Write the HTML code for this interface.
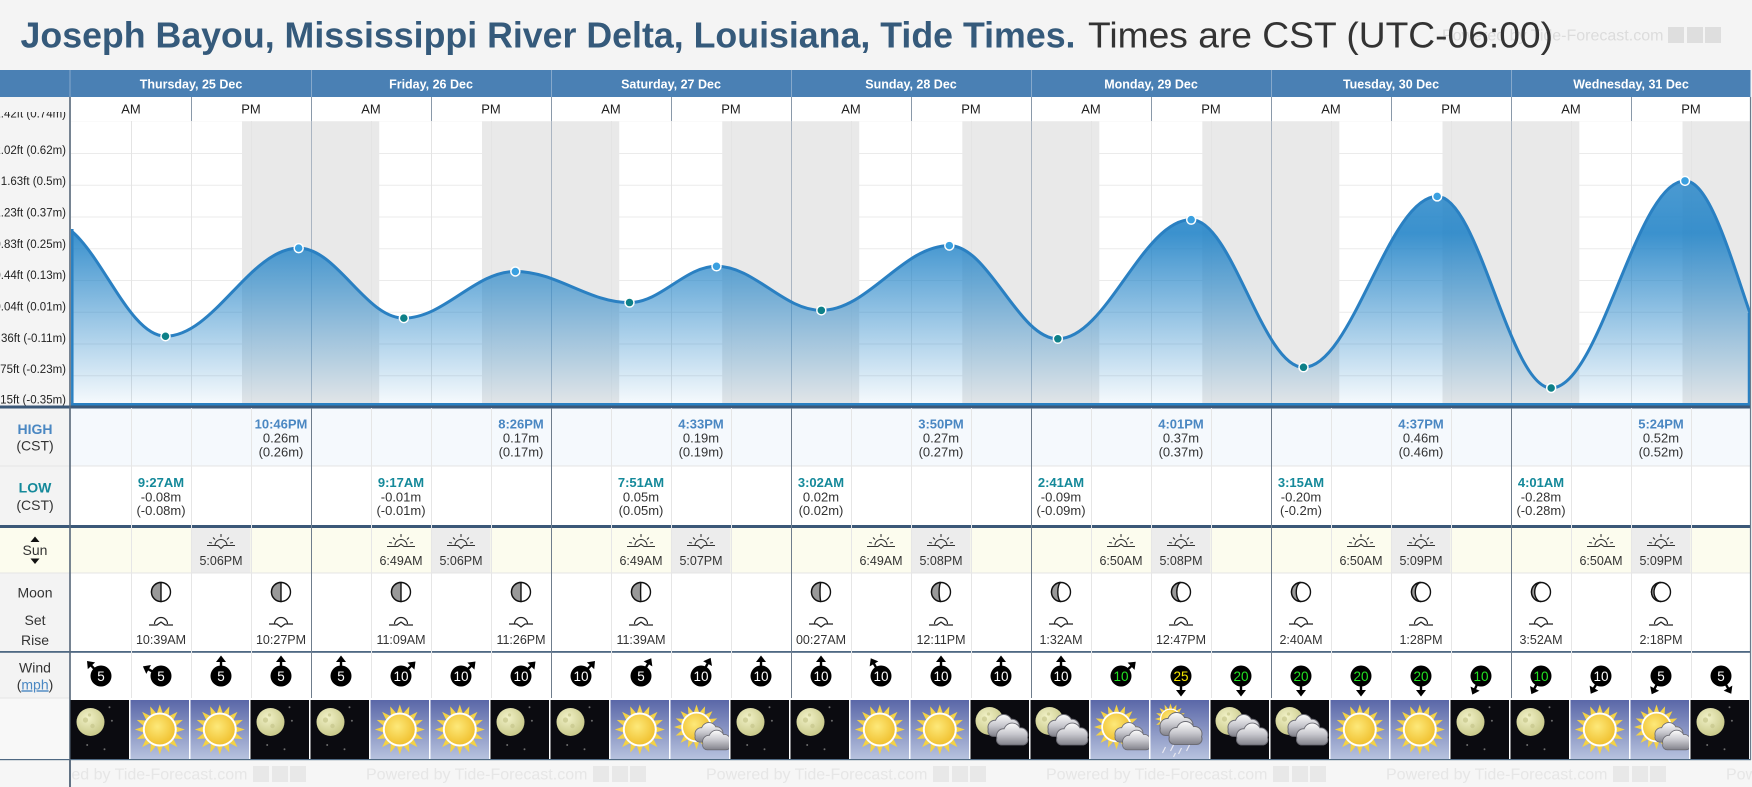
<!DOCTYPE html>
<html><head><meta charset="utf-8"><style>
html,body{margin:0;padding:0;background:#f4f4f4;overflow:hidden;width:1752px;height:787px}
svg{display:block}
text{font-family:"Liberation Sans",Arial,sans-serif}
.m{text-anchor:middle}
.v{font-size:13px;fill:#333}
.hb{font-size:13px;font-weight:bold;fill:#4a87c2}
.lb{font-size:13px;font-weight:bold;fill:#14899a}
.s{font-size:12.5px;fill:#333}
.yl{font-size:11.5px;fill:#222;text-anchor:end}
.lab{font-size:14px;fill:#333;text-anchor:middle}
.wn{font-size:13.5px;text-anchor:middle}
.wm{font-size:16px;fill:#e6e6e6}
</style></head><body>
<svg width="1752" height="787" viewBox="0 0 1752 787" xmlns="http://www.w3.org/2000/svg">
<defs>
<clipPath id="chart"><rect x="71" y="121.5" width="1679" height="284"/></clipPath>
<clipPath id="foot"><rect x="71" y="760" width="1681" height="27"/></clipPath>
<clipPath id="tc"><rect width="58.5" height="59"/></clipPath>
<linearGradient id="fillg" gradientUnits="userSpaceOnUse" x1="0" y1="190" x2="0" y2="406">
<stop offset="0" stop-color="#2585c8" stop-opacity=".84"/>
<stop offset=".2" stop-color="#2585c8" stop-opacity=".9"/>
<stop offset="1" stop-color="#2585c8" stop-opacity=".03"/>
</linearGradient>
<linearGradient id="sky" x1="0" y1="0" x2="0" y2="1"><stop offset="0" stop-color="#5a67a8"/><stop offset="1" stop-color="#b7c2de"/></linearGradient>
<radialGradient id="sung" cx=".42" cy=".4" r=".6"><stop offset="0" stop-color="#fde97a"/><stop offset="1" stop-color="#f1c232"/></radialGradient>
<radialGradient id="moong" cx=".4" cy=".35" r=".65"><stop offset="0" stop-color="#f2f2c8"/><stop offset="1" stop-color="#c9c98a"/></radialGradient>
<linearGradient id="cg" gradientUnits="userSpaceOnUse" x1="0" y1="0" x2="0" y2="22"><stop offset="0" stop-color="#fbfbfb"/><stop offset=".5" stop-color="#c8c8ce"/><stop offset="1" stop-color="#85858e"/></linearGradient>
<g id="sunb"><polygon fill="#f4d246" points="25,0 15.69,3.12 23.1,9.57 13.3,8.89 17.68,17.68 8.89,13.3 9.57,23.1 3.12,15.69 0,25 -3.12,15.69 -9.57,23.1 -8.89,13.3 -17.68,17.68 -13.3,8.89 -23.1,9.57 -15.69,3.12 -25,0 -15.69,-3.12 -23.1,-9.57 -13.3,-8.89 -17.68,-17.68 -8.89,-13.3 -9.57,-23.1 -3.12,-15.69 0,-25 3.12,-15.69 9.57,-23.1 8.89,-13.3 17.68,-17.68 13.3,-8.89 23.1,-9.57 15.69,-3.12"/><circle r="17" fill="#fff"/><circle r="15" fill="url(#sung)"/></g>
<g id="moonb"><circle r="14" fill="url(#moong)"/><circle cx="-5" cy="-2" r="2.6" fill="#c6c68c" opacity=".7"/><circle cx="2" cy="4" r="2.2" fill="#c6c68c" opacity=".7"/><circle cx="-1" cy="-7" r="1.6" fill="#c6c68c" opacity=".7"/></g>
<g id="cl"><g fill="#6c6c74" stroke="#6c6c74" stroke-width="2"><circle cx="8" cy="13" r="7"/><circle cx="17" cy="8.5" r="8.5"/><circle cx="26" cy="12" r="7"/><rect x="1" y="12" width="32" height="10" rx="5"/></g><g fill="url(#cg)"><circle cx="8" cy="13" r="7"/><circle cx="17" cy="8.5" r="8.5"/><circle cx="26" cy="12" r="7"/><rect x="1" y="12" width="32" height="10" rx="5"/></g></g>
<g id="cloud"><use href="#cl"/><use href="#cl" x="9" y="9"/></g>
<g id="tN" clip-path="url(#tc)"><rect width="58.5" height="59" fill="#0b0b10"/><use href="#moonb" x="20" y="22"/><g fill="#6a6a6a"><circle cx="39" cy="7.3" r="1"/><circle cx="41.4" cy="20.7" r="1"/><circle cx="16.7" cy="45" r="1"/><circle cx="34" cy="49.3" r="1"/></g></g>
<g id="tS" clip-path="url(#tc)"><rect width="58.5" height="59" fill="url(#sky)"/><use href="#sunb" x="29.3" y="29.5"/></g>
<g id="tSC" clip-path="url(#tc)"><rect width="58.5" height="59" fill="url(#sky)"/><use href="#sunb" transform="translate(26,27) scale(.9)"/><use href="#cloud" transform="translate(24,23) scale(.85)"/></g>
<g id="tR" clip-path="url(#tc)"><rect width="58.5" height="59" fill="url(#sky)"/><use href="#sunb" transform="translate(20,19) scale(.62)"/><use href="#cloud" transform="translate(9,13)"/><path d="M15,47l-3,6M23,45l-3,6M31,48l-3,6M39,45l-3,6M25,53l-2,4" stroke="#e8e8f0" stroke-width="1.2"/></g>
<g id="tNC" clip-path="url(#tc)"><rect width="58.5" height="59" fill="#0b0b10"/><use href="#moonb" x="19" y="21"/><use href="#cloud" transform="translate(17,15) scale(.95)"/></g>
<g id="sr" fill="none" stroke="#333" stroke-width="1.1"><path d="M-6,0A6,6 0 0 1 6,0"/><path d="M0,-8.5V-11.5M-6,-6L-8,-8M6,-6L8,-8M-9,-2.5L-12,-3M9,-2.5L12,-3"/><path d="M-14,1H-3L0,-1.5L3,1H14"/></g>
<g id="ss" fill="none" stroke="#333" stroke-width="1.1"><path d="M-6,0A6,6 0 0 1 6,0"/><path d="M0,-8.5V-11.5M-6,-6L-8,-8M6,-6L8,-8M-9,-2.5L-12,-3M9,-2.5L12,-3"/><path d="M-14,0H-3L0,3L3,0H14"/></g>
<g id="mr" fill="none" stroke="#222" stroke-width="1.2"><path d="M-6.5,0A6.5,6.5 0 0 1 6.5,0"/><path d="M-12,1H-4L0,-2L4,1H12"/></g>
<g id="ms" fill="none" stroke="#222" stroke-width="1.2"><path d="M-6.5,0A6.5,6.5 0 0 1 6.5,0"/><path d="M-12,0H-4L0,3L4,0H12"/></g>
<g id="arr"><line x1="0" y1="-9" x2="0" y2="-15" stroke="#000" stroke-width="2.4"/><polygon points="-5,-14 0,-20.5 5,-14" fill="#000"/></g>
</defs>

<rect width="1752" height="787" fill="#f4f4f4"/>

<!-- header watermark -->
<text x="1442" y="40.5" font-size="16" fill="#dcdcdc">Powered by Tide-Forecast.com</text>
<g fill="#dedede"><rect x="1668" y="27" width="16" height="16"/><rect x="1687" y="27" width="16" height="16"/><rect x="1705" y="27" width="16" height="16"/></g>

<!-- title -->
<text x="20.5" y="47.3" font-size="36" font-weight="bold" fill="#355a7b" textLength="1055" lengthAdjust="spacingAndGlyphs">Joseph Bayou, Mississippi River Delta, Louisiana, Tide Times.</text>
<text x="1088" y="47.3" font-size="36.5" fill="#333" textLength="465" lengthAdjust="spacingAndGlyphs">Times are CST (UTC-06:00)</text>

<!-- blue day bar -->
<rect x="0" y="70" width="1750.5" height="27" fill="#4a80b4"/>
<path d="M70,70V97M311.5,70V97M551.5,70V97M791.5,70V97M1031.5,70V97M1271.5,70V97M1511.5,70V97" stroke="#86a9cc" stroke-width="1"/>
<g fill="#fff" font-size="12.5" font-weight="bold">
<text x="191" y="88.5" class="m">Thursday, 25 Dec</text>
<text x="431" y="88.5" class="m">Friday, 26 Dec</text>
<text x="671" y="88.5" class="m">Saturday, 27 Dec</text>
<text x="911" y="88.5" class="m">Sunday, 28 Dec</text>
<text x="1151" y="88.5" class="m">Monday, 29 Dec</text>
<text x="1391" y="88.5" class="m">Tuesday, 30 Dec</text>
<text x="1631" y="88.5" class="m">Wednesday, 31 Dec</text>
</g>

<!-- y labels (top one partially hidden) -->
<text x="66" y="117.5" class="yl">2.42ft (0.74m)</text>
<rect x="0" y="97" width="70" height="15" fill="#f4f4f4"/>

<!-- AM/PM row -->
<rect x="71" y="97" width="1679" height="24" fill="#fff"/>
<path d="M191.5,97V121M311.5,97V121M431.5,97V121M551.5,97V121M671.5,97V121M791.5,97V121M911.5,97V121M1031.5,97V121M1151.5,97V121M1271.5,97V121M1391.5,97V121M1511.5,97V121M1631.5,97V121" stroke="#8a99a9" stroke-width="1"/>
<g font-size="13" fill="#222">
<text x="131" y="113.5" class="m">AM</text><text x="251" y="113.5" class="m">PM</text>
<text x="371" y="113.5" class="m">AM</text><text x="491" y="113.5" class="m">PM</text>
<text x="611" y="113.5" class="m">AM</text><text x="731" y="113.5" class="m">PM</text>
<text x="851" y="113.5" class="m">AM</text><text x="971" y="113.5" class="m">PM</text>
<text x="1091" y="113.5" class="m">AM</text><text x="1211" y="113.5" class="m">PM</text>
<text x="1331" y="113.5" class="m">AM</text><text x="1451" y="113.5" class="m">PM</text>
<text x="1571" y="113.5" class="m">AM</text><text x="1691" y="113.5" class="m">PM</text>
</g>

<!-- chart -->
<rect x="71" y="121.5" width="1679" height="284" fill="#fff"/>
<path d="M71,153.5H1750M71,185.3H1750M71,217H1750M71,248.8H1750M71,280.5H1750M71,312.3H1750M71,344H1750M71,375.8H1750" stroke="#ebebeb" stroke-width="1"/>
<g fill="#e9e9e9">
<rect x="242" y="121.5" width="137.2" height="284"/>
<rect x="482" y="121.5" width="137.2" height="284"/>
<rect x="722.2" y="121.5" width="137" height="284"/>
<rect x="962.3" y="121.5" width="137" height="284"/>
<rect x="1202.3" y="121.5" width="137" height="284"/>
<rect x="1442.5" y="121.5" width="136.8" height="284"/>
<rect x="1682.5" y="121.5" width="67.5" height="284"/>
</g>
<path d="M131.5,121V405M191.5,121V405M251.5,121V405M371.5,121V405M431.5,121V405M491.5,121V405M611.5,121V405M671.5,121V405M731.5,121V405M851.5,121V405M911.5,121V405M971.5,121V405M1091.5,121V405M1151.5,121V405M1211.5,121V405M1331.5,121V405M1391.5,121V405M1451.5,121V405M1571.5,121V405M1631.5,121V405M1691.5,121V405" stroke="#e4e4e4" stroke-width="1"/>
<path d="M311.5,121V405M551.5,121V405M791.5,121V405M1031.5,121V405M1271.5,121V405M1511.5,121V405" stroke="#aab5c2" stroke-width="1"/>

<g clip-path="url(#chart)">
<g transform="translate(2,0)">
<path fill="url(#fillg)" d="M49,222.26C90.68,222.26 121.82,336.22 163.5,336.22C211.97,336.22 248.2,248.16 296.67,248.16C334.95,248.16 363.55,318.09 401.83,318.09C442.42,318.09 472.74,271.47 513.33,271.47C554.89,271.47 585.94,302.55 627.5,302.55C659.17,302.55 682.83,266.29 714.5,266.29C752.66,266.29 781.17,310.32 819.33,310.32C865.92,310.32 900.74,245.57 947.33,245.57C986.82,245.57 1016.34,338.81 1055.83,338.81C1104.37,338.81 1140.63,219.67 1189.17,219.67C1230.06,219.67 1260.61,367.3 1301.5,367.3C1350.16,367.3 1386.51,196.36 1435.17,196.36C1476.67,196.36 1507.67,388.02 1549.17,388.02C1597.88,388.02 1634.29,180.82 1683,180.82C1724.86,180.82 1756.14,400.97 1798,400.97L1798,410L49,410Z"/>
<path fill="none" stroke="#2a80c2" stroke-width="3" d="M49,222.26C90.68,222.26 121.82,336.22 163.5,336.22C211.97,336.22 248.2,248.16 296.67,248.16C334.95,248.16 363.55,318.09 401.83,318.09C442.42,318.09 472.74,271.47 513.33,271.47C554.89,271.47 585.94,302.55 627.5,302.55C659.17,302.55 682.83,266.29 714.5,266.29C752.66,266.29 781.17,310.32 819.33,310.32C865.92,310.32 900.74,245.57 947.33,245.57C986.82,245.57 1016.34,338.81 1055.83,338.81C1104.37,338.81 1140.63,219.67 1189.17,219.67C1230.06,219.67 1260.61,367.3 1301.5,367.3C1350.16,367.3 1386.51,196.36 1435.17,196.36C1476.67,196.36 1507.67,388.02 1549.17,388.02C1597.88,388.02 1634.29,180.82 1683,180.82C1724.86,180.82 1756.14,400.97 1798,400.97"/>
</g>
<path d="M72.3,229V405M71,404.3H1750M1749,313V405" stroke="#2a80c2" stroke-width="2.5" fill="none"/>
</g>
<g transform="translate(2,0)" stroke="#fff" stroke-width="1.5">
<g fill="#3aa0e0">
<circle cx="296.67" cy="248.16" r="4.5"/><circle cx="513.33" cy="271.47" r="4.5"/><circle cx="714.5" cy="266.29" r="4.5"/><circle cx="947.33" cy="245.57" r="4.5"/><circle cx="1189.17" cy="219.67" r="4.5"/><circle cx="1435.17" cy="196.36" r="4.5"/><circle cx="1683" cy="180.82" r="4.5"/>
</g>
<g fill="#0e8088">
<circle cx="163.5" cy="336.22" r="4.5"/><circle cx="401.83" cy="318.09" r="4.5"/><circle cx="627.5" cy="302.55" r="4.5"/><circle cx="819.33" cy="310.32" r="4.5"/><circle cx="1055.83" cy="338.81" r="4.5"/><circle cx="1301.5" cy="367.3" r="4.5"/><circle cx="1549.17" cy="388.02" r="4.5"/>
</g>
</g>

<!-- y labels -->
<text x="66" y="154" class="yl">2.02ft (0.62m)</text>
<text x="66" y="185" class="yl">1.63ft (0.5m)</text>
<text x="66" y="216.5" class="yl">1.23ft (0.37m)</text>
<text x="66" y="248" class="yl">0.83ft (0.25m)</text>
<text x="66" y="279" class="yl">0.44ft (0.13m)</text>
<text x="66" y="310.5" class="yl">0.04ft (0.01m)</text>
<text x="66" y="342" class="yl">-0.36ft (-0.11m)</text>
<text x="66" y="373" class="yl">-0.75ft (-0.23m)</text>
<text x="66" y="403.5" class="yl">-1.15ft (-0.35m)</text>

<!-- table backgrounds -->
<rect x="0" y="408.5" width="70" height="351" fill="#f3f3f3"/>
<rect x="0" y="698.5" width="70" height="61" fill="#f8f8f8"/>
<rect x="71" y="408.5" width="1679" height="57.5" fill="#f5f9fd"/>
<rect x="71" y="466" width="1679" height="59" fill="#fff"/>
<rect x="0" y="528" width="1750" height="45" fill="#fcfcee"/>
<g fill="#ececec">
<rect x="191.5" y="528" width="59" height="45"/><rect x="431.5" y="528" width="59" height="45"/><rect x="671.5" y="528" width="59" height="45"/><rect x="911.5" y="528" width="59" height="45"/><rect x="1151.5" y="528" width="59" height="45"/><rect x="1391.5" y="528" width="59" height="45"/><rect x="1631.5" y="528" width="59" height="45"/>
</g>
<rect x="71" y="573.5" width="1679" height="78" fill="#fff"/>
<rect x="71" y="653" width="1679" height="106" fill="#fff"/>
<rect x="0" y="760" width="1752" height="27" fill="#f6f6f6"/>

<!-- horizontal lines -->
<rect x="0" y="405.5" width="1751" height="3" fill="#3b5878"/>
<path d="M0,466H1750M0,573H1750M0,698H70" stroke="#e4e4e4" stroke-width="1"/>
<rect x="0" y="525" width="1751" height="3" fill="#3b5878"/>
<rect x="0" y="651" width="1751" height="1.8" fill="#4f6983"/>
<rect x="0" y="759" width="1751" height="1.2" fill="#4f6983"/>

<!-- vertical lines table -->
<path d="M131.5,408V698M191.5,408V698M251.5,408V698M371.5,408V698M431.5,408V698M491.5,408V698M611.5,408V698M671.5,408V698M731.5,408V698M851.5,408V698M911.5,408V698M971.5,408V698M1091.5,408V698M1151.5,408V698M1211.5,408V698M1331.5,408V698M1391.5,408V698M1451.5,408V698M1571.5,408V698M1631.5,408V698M1691.5,408V698" stroke="#e6e6e6" stroke-width="1"/>
<path d="M311.5,408V698M551.5,408V698M791.5,408V698M1031.5,408V698M1271.5,408V698M1511.5,408V698" stroke="#6f7d8c" stroke-width="1"/>
<path d="M70,97V787" stroke="#56677a" stroke-width="1.6"/>
<path d="M1750.5,97V760" stroke="#6b7b8c" stroke-width="1.2"/>

<!-- left labels -->
<text x="35" y="434" class="lab" font-weight="bold" style="fill:#4a87c2">HIGH</text>
<text x="35" y="450.5" class="lab">(CST)</text>
<text x="35" y="492.7" class="lab" font-weight="bold" style="fill:#14899a">LOW</text>
<text x="35" y="510" class="lab">(CST)</text>
<polygon points="30.5,542 35,536.5 39.5,542" fill="#111"/>
<text x="35" y="555" class="lab">Sun</text>
<polygon points="30.5,558.5 35,564 39.5,558.5" fill="#111"/>
<text x="35" y="597.3" class="lab">Moon</text>
<text x="35" y="625" class="lab">Set</text>
<text x="35" y="645" class="lab">Rise</text>
<text x="35" y="672.3" class="lab">Wind</text>
<text x="35" y="689.3" class="lab">(<tspan fill="#4a87c2" text-decoration="underline">mph</tspan>)</text>

<!-- HIGH -->
<g>
<text x="281" y="428.3" class="hb m">10:46PM</text><text x="281" y="442.3" class="v m">0.26m</text><text x="281" y="456.3" class="v m">(0.26m)</text>
<text x="521" y="428.3" class="hb m">8:26PM</text><text x="521" y="442.3" class="v m">0.17m</text><text x="521" y="456.3" class="v m">(0.17m)</text>
<text x="701" y="428.3" class="hb m">4:33PM</text><text x="701" y="442.3" class="v m">0.19m</text><text x="701" y="456.3" class="v m">(0.19m)</text>
<text x="941" y="428.3" class="hb m">3:50PM</text><text x="941" y="442.3" class="v m">0.27m</text><text x="941" y="456.3" class="v m">(0.27m)</text>
<text x="1181" y="428.3" class="hb m">4:01PM</text><text x="1181" y="442.3" class="v m">0.37m</text><text x="1181" y="456.3" class="v m">(0.37m)</text>
<text x="1421" y="428.3" class="hb m">4:37PM</text><text x="1421" y="442.3" class="v m">0.46m</text><text x="1421" y="456.3" class="v m">(0.46m)</text>
<text x="1661" y="428.3" class="hb m">5:24PM</text><text x="1661" y="442.3" class="v m">0.52m</text><text x="1661" y="456.3" class="v m">(0.52m)</text>
</g>
<!-- LOW -->
<g>
<text x="161" y="487" class="lb m">9:27AM</text><text x="161" y="501.3" class="v m">-0.08m</text><text x="161" y="515" class="v m">(-0.08m)</text>
<text x="401" y="487" class="lb m">9:17AM</text><text x="401" y="501.3" class="v m">-0.01m</text><text x="401" y="515" class="v m">(-0.01m)</text>
<text x="641" y="487" class="lb m">7:51AM</text><text x="641" y="501.3" class="v m">0.05m</text><text x="641" y="515" class="v m">(0.05m)</text>
<text x="821" y="487" class="lb m">3:02AM</text><text x="821" y="501.3" class="v m">0.02m</text><text x="821" y="515" class="v m">(0.02m)</text>
<text x="1061" y="487" class="lb m">2:41AM</text><text x="1061" y="501.3" class="v m">-0.09m</text><text x="1061" y="515" class="v m">(-0.09m)</text>
<text x="1301" y="487" class="lb m">3:15AM</text><text x="1301" y="501.3" class="v m">-0.20m</text><text x="1301" y="515" class="v m">(-0.2m)</text>
<text x="1541" y="487" class="lb m">4:01AM</text><text x="1541" y="501.3" class="v m">-0.28m</text><text x="1541" y="515" class="v m">(-0.28m)</text>
</g>

<!-- Sun row -->
<use href="#ss" x="221" y="545.5"/><text x="221" y="565" class="s m">5:06PM</text>
<use href="#sr" x="401" y="545.5"/><text x="401" y="565" class="s m">6:49AM</text>
<use href="#ss" x="461" y="545.5"/><text x="461" y="565" class="s m">5:06PM</text>
<use href="#sr" x="641" y="545.5"/><text x="641" y="565" class="s m">6:49AM</text>
<use href="#ss" x="701" y="545.5"/><text x="701" y="565" class="s m">5:07PM</text>
<use href="#sr" x="881" y="545.5"/><text x="881" y="565" class="s m">6:49AM</text>
<use href="#ss" x="941" y="545.5"/><text x="941" y="565" class="s m">5:08PM</text>
<use href="#sr" x="1121" y="545.5"/><text x="1121" y="565" class="s m">6:50AM</text>
<use href="#ss" x="1181" y="545.5"/><text x="1181" y="565" class="s m">5:08PM</text>
<use href="#sr" x="1361" y="545.5"/><text x="1361" y="565" class="s m">6:50AM</text>
<use href="#ss" x="1421" y="545.5"/><text x="1421" y="565" class="s m">5:09PM</text>
<use href="#sr" x="1601" y="545.5"/><text x="1601" y="565" class="s m">6:50AM</text>
<use href="#ss" x="1661" y="545.5"/><text x="1661" y="565" class="s m">5:09PM</text>

<!-- Moon row -->
<g stroke="#111" stroke-width="1.4">
<g transform="translate(161,592)"><circle r="9.5" fill="#fff"/><path d="M0,-9.5A9.5,9.5 0 0 0 0,9.5Z" fill="#999"/></g>
<g transform="translate(281,592)"><circle r="9.5" fill="#fff"/><path d="M0,-9.5A9.5,9.5 0 0 0 0,9.5Z" fill="#999"/></g>
<g transform="translate(401,592)"><circle r="9.5" fill="#fff"/><path d="M0,-9.5A9.5,9.5 0 0 0 0,9.5Z" fill="#999"/></g>
<g transform="translate(521,592)"><circle r="9.5" fill="#fff"/><path d="M0,-9.5A9.5,9.5 0 0 0 0,9.5Z" fill="#999"/></g>
<g transform="translate(641,592)"><circle r="9.5" fill="#fff"/><path d="M0,-9.5A9.5,9.5 0 0 0 0,9.5A0.4,9.5 0 0 1 0,-9.5Z" fill="#999"/></g>
<g transform="translate(821,592)"><circle r="9.5" fill="#fff"/><path d="M0,-9.5A9.5,9.5 0 0 0 0,9.5A1,9.5 0 0 1 0,-9.5Z" fill="#999"/></g>
<g transform="translate(941,592)"><circle r="9.5" fill="#fff"/><path d="M0,-9.5A9.5,9.5 0 0 0 0,9.5A1.9,9.5 0 0 1 0,-9.5Z" fill="#999"/></g>
<g transform="translate(1061,592)"><circle r="9.5" fill="#fff"/><path d="M0,-9.5A9.5,9.5 0 0 0 0,9.5A3.2,9.5 0 0 1 0,-9.5Z" fill="#999"/></g>
<g transform="translate(1181,592)"><circle r="9.5" fill="#fff"/><path d="M0,-9.5A9.5,9.5 0 0 0 0,9.5A4.2,9.5 0 0 1 0,-9.5Z" fill="#999"/></g>
<g transform="translate(1301,592)"><circle r="9.5" fill="#fff"/><path d="M0,-9.5A9.5,9.5 0 0 0 0,9.5A4.75,9.5 0 0 1 0,-9.5Z" fill="#999"/></g>
<g transform="translate(1421,592)"><circle r="9.5" fill="#fff"/><path d="M0,-9.5A9.5,9.5 0 0 0 0,9.5A5.7,9.5 0 0 1 0,-9.5Z" fill="#999"/></g>
<g transform="translate(1541,592)"><circle r="9.5" fill="#fff"/><path d="M0,-9.5A9.5,9.5 0 0 0 0,9.5A6.3,9.5 0 0 1 0,-9.5Z" fill="#999"/></g>
<g transform="translate(1661,592)"><circle r="9.5" fill="#fff"/><path d="M0,-9.5A9.5,9.5 0 0 0 0,9.5A7,9.5 0 0 1 0,-9.5Z" fill="#999"/></g>
</g>
<use href="#mr" x="161" y="624"/><text x="161" y="644" class="s m">10:39AM</text>
<use href="#ms" x="281" y="624"/><text x="281" y="644" class="s m">10:27PM</text>
<use href="#mr" x="401" y="624"/><text x="401" y="644" class="s m">11:09AM</text>
<use href="#ms" x="521" y="624"/><text x="521" y="644" class="s m">11:26PM</text>
<use href="#mr" x="641" y="624"/><text x="641" y="644" class="s m">11:39AM</text>
<use href="#ms" x="821" y="624"/><text x="821" y="644" class="s m">00:27AM</text>
<use href="#mr" x="941" y="624"/><text x="941" y="644" class="s m">12:11PM</text>
<use href="#ms" x="1061" y="624"/><text x="1061" y="644" class="s m">1:32AM</text>
<use href="#mr" x="1181" y="624"/><text x="1181" y="644" class="s m">12:47PM</text>
<use href="#ms" x="1301" y="624"/><text x="1301" y="644" class="s m">2:40AM</text>
<use href="#mr" x="1421" y="624"/><text x="1421" y="644" class="s m">1:28PM</text>
<use href="#ms" x="1541" y="624"/><text x="1541" y="644" class="s m">3:52AM</text>
<use href="#mr" x="1661" y="624"/><text x="1661" y="644" class="s m">2:18PM</text>

<!-- Wind row -->
<g>
<use href="#arr" transform="translate(101,676) rotate(-43)"/>
<use href="#arr" transform="translate(161,676) rotate(-62)"/>
<use href="#arr" transform="translate(221,676)"/>
<use href="#arr" transform="translate(281,676)"/>
<use href="#arr" transform="translate(341,676)"/>
<use href="#arr" transform="translate(401,676) rotate(45)"/>
<use href="#arr" transform="translate(461,676) rotate(45)"/>
<use href="#arr" transform="translate(521,676) rotate(45)"/>
<use href="#arr" transform="translate(581,676) rotate(43)"/>
<use href="#arr" transform="translate(641,676) rotate(30)"/>
<use href="#arr" transform="translate(701,676) rotate(28)"/>
<use href="#arr" transform="translate(761,676)"/>
<use href="#arr" transform="translate(821,676)"/>
<use href="#arr" transform="translate(881,676) rotate(-30)"/>
<use href="#arr" transform="translate(941,676)"/>
<use href="#arr" transform="translate(1001,676)"/>
<use href="#arr" transform="translate(1061,676)"/>
<use href="#arr" transform="translate(1121,676) rotate(46)"/>
<use href="#arr" transform="translate(1181,676) rotate(180)"/>
<use href="#arr" transform="translate(1241,676) rotate(180)"/>
<use href="#arr" transform="translate(1301,676) rotate(180)"/>
<use href="#arr" transform="translate(1361,676) rotate(180)"/>
<use href="#arr" transform="translate(1421,676) rotate(180)"/>
<use href="#arr" transform="translate(1481,676) rotate(205)"/>
<use href="#arr" transform="translate(1541,676) rotate(208)"/>
<use href="#arr" transform="translate(1601,676) rotate(210)"/>
<use href="#arr" transform="translate(1661,676) rotate(207)"/>
<use href="#arr" transform="translate(1721,676) rotate(150)"/>
</g>
<g fill="#000">
<circle cx="101" cy="676" r="10.5"/><circle cx="161" cy="676" r="10.5"/><circle cx="221" cy="676" r="10.5"/><circle cx="281" cy="676" r="10.5"/>
<circle cx="341" cy="676" r="10.5"/><circle cx="401" cy="676" r="10.5"/><circle cx="461" cy="676" r="10.5"/><circle cx="521" cy="676" r="10.5"/>
<circle cx="581" cy="676" r="10.5"/><circle cx="641" cy="676" r="10.5"/><circle cx="701" cy="676" r="10.5"/><circle cx="761" cy="676" r="10.5"/>
<circle cx="821" cy="676" r="10.5"/><circle cx="881" cy="676" r="10.5"/><circle cx="941" cy="676" r="10.5"/><circle cx="1001" cy="676" r="10.5"/>
<circle cx="1061" cy="676" r="10.5"/><circle cx="1121" cy="676" r="10.5"/><circle cx="1181" cy="676" r="10.5"/><circle cx="1241" cy="676" r="10.5"/>
<circle cx="1301" cy="676" r="10.5"/><circle cx="1361" cy="676" r="10.5"/><circle cx="1421" cy="676" r="10.5"/><circle cx="1481" cy="676" r="10.5"/>
<circle cx="1541" cy="676" r="10.5"/><circle cx="1601" cy="676" r="10.5"/><circle cx="1661" cy="676" r="10.5"/><circle cx="1721" cy="676" r="10.5"/>
</g>
<g fill="#fff">
<text x="101" y="681" class="wn">5</text><text x="161" y="681" class="wn">5</text><text x="221" y="681" class="wn">5</text><text x="281" y="681" class="wn">5</text>
<text x="341" y="681" class="wn">5</text><text x="401" y="681" class="wn">10</text><text x="461" y="681" class="wn">10</text><text x="521" y="681" class="wn">10</text>
<text x="581" y="681" class="wn">10</text><text x="641" y="681" class="wn">5</text><text x="701" y="681" class="wn">10</text><text x="761" y="681" class="wn">10</text>
<text x="821" y="681" class="wn">10</text><text x="881" y="681" class="wn">10</text><text x="941" y="681" class="wn">10</text><text x="1001" y="681" class="wn">10</text>
<text x="1061" y="681" class="wn">10</text>
<text x="1121" y="681" class="wn" fill="#22e022">10</text>
<text x="1181" y="681" class="wn" fill="#f2e600">25</text>
<text x="1241" y="681" class="wn" fill="#22e022">20</text>
<text x="1301" y="681" class="wn" fill="#22e022">20</text>
<text x="1361" y="681" class="wn" fill="#22e022">20</text>
<text x="1421" y="681" class="wn" fill="#22e022">20</text>
<text x="1481" y="681" class="wn" fill="#22e022">10</text>
<text x="1541" y="681" class="wn" fill="#22e022">10</text>
<text x="1601" y="681" class="wn">10</text><text x="1661" y="681" class="wn">5</text><text x="1721" y="681" class="wn">5</text>
</g>

<!-- Weather tiles -->
<use href="#tN" x="70.5" y="700"/><use href="#tS" x="130.5" y="700"/><use href="#tS" x="190.5" y="700"/><use href="#tN" x="250.5" y="700"/>
<use href="#tN" x="310.5" y="700"/><use href="#tS" x="370.5" y="700"/><use href="#tS" x="430.5" y="700"/><use href="#tN" x="490.5" y="700"/>
<use href="#tN" x="550.5" y="700"/><use href="#tS" x="610.5" y="700"/><use href="#tSC" x="670.5" y="700"/><use href="#tN" x="730.5" y="700"/>
<use href="#tN" x="790.5" y="700"/><use href="#tS" x="850.5" y="700"/><use href="#tS" x="910.5" y="700"/><use href="#tNC" x="970.5" y="700"/>
<use href="#tNC" x="1030.5" y="700"/><use href="#tSC" x="1090.5" y="700"/><use href="#tR" x="1150.5" y="700"/><use href="#tNC" x="1210.5" y="700"/>
<use href="#tNC" x="1270.5" y="700"/><use href="#tS" x="1330.5" y="700"/><use href="#tS" x="1390.5" y="700"/><use href="#tN" x="1450.5" y="700"/>
<use href="#tN" x="1510.5" y="700"/><use href="#tS" x="1570.5" y="700"/><use href="#tSC" x="1630.5" y="700"/><use href="#tN" x="1690.5" y="700"/>

<!-- footer watermark -->
<g clip-path="url(#foot)">
<text x="26" y="779.5" class="wm">Powered by Tide-Forecast.com</text>
<text x="366" y="779.5" class="wm">Powered by Tide-Forecast.com</text>
<text x="706" y="779.5" class="wm">Powered by Tide-Forecast.com</text>
<text x="1046" y="779.5" class="wm">Powered by Tide-Forecast.com</text>
<text x="1386" y="779.5" class="wm">Powered by Tide-Forecast.com</text>
<text x="1726" y="779.5" class="wm">Powered by Tide-Forecast.com</text>
<g fill="#e8e8e8">
<rect x="253" y="766" width="16" height="16"/><rect x="272" y="766" width="16" height="16"/><rect x="290" y="766" width="16" height="16"/>
<rect x="593" y="766" width="16" height="16"/><rect x="612" y="766" width="16" height="16"/><rect x="630" y="766" width="16" height="16"/>
<rect x="933" y="766" width="16" height="16"/><rect x="952" y="766" width="16" height="16"/><rect x="970" y="766" width="16" height="16"/>
<rect x="1273" y="766" width="16" height="16"/><rect x="1292" y="766" width="16" height="16"/><rect x="1310" y="766" width="16" height="16"/>
<rect x="1613" y="766" width="16" height="16"/><rect x="1632" y="766" width="16" height="16"/><rect x="1650" y="766" width="16" height="16"/>
</g>
</g>
<path d="M70,760V787" stroke="#56677a" stroke-width="1.6"/>
</svg>
</body></html>
